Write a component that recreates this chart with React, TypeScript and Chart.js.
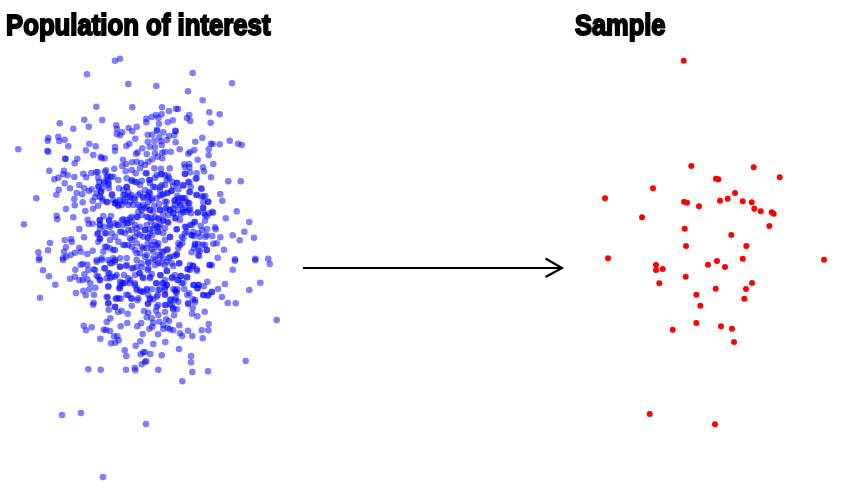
import React, { useEffect, useRef } from "react";
import { Chart, registerables } from "chart.js";

Chart.register(...registerables);

const titleLeft = "Population of interest";
const titleRight = "Sample";

const sample: [number, number][] = [
  [683.7,60.7],[691.3,166],[753.7,167.3],[779.7,177.3],[716,178.7],[718.3,179.3],[653,188.3],[735,193],[605,198.3],[727.7,198.7],
  [720,200.7],[742.7,201.3],[751.7,202.3],[684,201.7],[687,202.7],[699,206.3],[754.3,208.7],[760.7,211.3],[771.7,212.3],[773.7,213.7],
  [642,217.3],[769.3,226],[684.7,228.7],[731.3,235],[686,246],[746.3,246],[608,258.3],[742.7,258.7],[824,259.7],[717,261],
  [656,265],[708,264.7],[725,267],[662.7,269],[656,270],[685.7,276.7],[659.3,283.3],[752,283],[715.7,288.7],[746,289],
  [696.3,294.7],[744.3,298.7],[700.3,305.7],[696.3,323],[721,326.3],[732,328.7],[672.7,329.7],[734,342],[649.7,414],[715,424.3],
];

const populationTop: [number, number][] = [
  [115,60.7],[120,58.7],[87,74.3],[192.7,73],[232,83.3],[128.3,84],[156.3,86],[188,91.3],[202.7,100.3],[96.3,106.7],
  [132.3,107.3],[162,107.3],[176,108.7],[178,109],[169,111],[209.3,112.3],[219.7,114.3],[161.7,114.3],[156,115],[151.7,117],
  [146.3,118.7],[158.3,117.7],[189.3,115],[187,118],[190.3,121],[172.7,120.3],[167.7,122.3],[146.3,122.3],[159,123.7],[210.7,122.7],
  [84.3,119.7],[102.3,120],[59.7,123.3],[116.3,125.3],[88.7,126.7],[73.3,128.7],[136.7,126.7],[128.7,128],[117,129],[157,129.7],[175.3,130.7],
];

const populationUpperLeft: [number, number][] = [
  [18.3,149.3],[48.3,138],[47.7,140.7],[58.3,136.7],[59.3,141],[64.7,139.7],[68.3,146.3],[47.3,150.7],[48.3,151.7],[86,150.3],
  [89.3,143.7],[95.7,146.3],[93.3,155],[65,158.7],[65.7,158.7],[77.3,158.7],[74.7,163.3],[100.7,156.7],[101.7,158.3],[104.7,158.3],
  [116.7,134],[120,135.3],[122.3,132.3],[132.3,131.3],[135.3,138.7],[129.3,143.7],[126.3,146],[115,147],[115,151],[142.3,148.3],
  [137.7,152.3],[136,153.7],[123,159.7],[126,164],[132,162.3],[136.7,161.7],[141.3,163],[122.3,166],[114.3,168.7],[106,170.3],
  [49.3,170.7],[64,170.7],[63.3,174.3],[67.7,175.3],[74.3,177],[83.3,173.7],[86.3,177.3],[91.3,173],[96,172.3],[54.3,179.3],
  [58.3,177.7],[64.7,183.3],[79.3,185],[70,188.3],[84.3,188.3],[58.7,189.7],[56.3,194.7],[76.7,193],[82.3,194.3],[89,191],
  [91.7,189.3],[98.7,186.7],[36.3,198.3],[74.3,199],[74.7,205.3],[82.7,202.3],[92.7,201],[95,197.3],[101,191.7],[104,181.7],
  [108.7,182.7],[107.7,175.7],[113.3,176.7],[98.3,177.7],[125.7,171.3],[131.7,170],[135.7,173.3],[140,168.3],[118.3,180],[126.7,187.3],
  [131.7,181],[136.7,182.3],[141.7,180.7],[109,188.3],[112.3,194.3],[100,196.7],[102.7,200.7],[107.3,202.3],[116.7,201.7],[118.3,206],
  [115,203.3],[125,195],[130,196.7],[123.3,200.7],[128.3,205],[134,198.3],[140,193.3],[143.3,198.3],[138.3,205],[66,209],
  [98,205.7],[93,208.7],[85.3,211],[56.7,215.7],[57.3,219.3],[73.3,217.3],[24,224.3],[87.7,219.7],[88.7,224],[92.7,223.7],
  [99.7,220.3],[99.7,224.3],[103.3,216],[111,216],[109,220.7],[79.3,229],[100,229],[97.7,234.3],[84,237.3],[50,243],
  [64.7,240],[71,239],[71.7,242],[100,239],[106,233.3],[110,227],[116.7,225],[123.3,219.3],[126.7,223.3],[131.7,216.7],
  [137.3,217.3],[141.7,210],[135,225],[140,226.7],[128.3,230],[121.7,231.7],[137.3,233.3],[143.3,236.7],[131.7,240],[125,245],
  [118.3,241.7],[110,240],[106.7,246.7],[113.3,250],[38.3,252.3],[48,250.3],[66,247.3],[64,251.7],[79.3,247.7],[81,251.7],
  [75,252.7],[70.7,255],[66,256.7],[63,258],[39.3,258],[87.3,254],[92.7,250.7],[103.3,251.7],[120,258.3],[126.7,258],
  [136.7,253.3],[143.3,248.3],[131.7,246.7],[101.7,258.3],[113.3,258.3],
];

const populationUpperRight: [number, number][] = [
  [157,131],[163.3,132.3],[175.7,131.3],[147.7,134.7],[152.3,134.7],[159.3,137.3],[169,136],[174.3,135.3],[147.7,141.7],[154.3,141],
  [161,141.3],[166.7,140],[175.7,142.3],[149.7,146.7],[155,147.3],[161.7,145],[179.7,149.3],[165,151.7],[162.3,152.7],[170.7,151.7],
  [155,153.3],[157.7,156.7],[146.7,154],[152.3,159.3],[162.3,158.3],[148.3,161.7],[145,165],[154.3,168.3],[161,168.7],[169.7,168.3],
  [184.3,164.3],[189.3,164],[185,167.3],[189.3,167.3],[185,173.7],[190,172.3],[196.7,173.3],[195.7,178.7],[203,167.3],[204,171.3],
  [197.7,159.7],[213.3,164],[211,177.3],[188.3,153.7],[190,152],[194.3,150],[208.7,149.3],[208.7,155.3],[195.3,141.7],[202.3,137.7],
  [211,143.7],[212.7,144],[219.7,144.3],[229.7,140.7],[238,143.7],[241.7,145],[228.3,181.3],[240.7,181.3],[220.3,194],[222.3,200.7],
  [201,188.3],[196.3,194.7],[205.3,196],[201.3,196.3],[203.3,202.3],[208,201.7],[189.3,192.3],[189.3,203],[190.7,186.7],[183.3,185.7],
  [189.3,182.3],[177.3,182.7],[173.3,186],[178.3,189.3],[171.7,191],[167.7,192.7],[163.3,194.3],[160,195.7],[177.3,196],[181.7,198],
  [185,198.3],[186.7,201.7],[174.3,201],[178.3,201.7],[181,204],[166.7,201.7],[159,204],[151.7,198.3],[149,191.7],[155,187.3],
  [160,187.3],[165,185],[169,178.3],[165,175],[160.7,174.3],[155,177.7],[149,180],[150,183.3],[172.3,181.7],[145.7,173.3],
  [236.7,211.3],[225.7,218.3],[249.3,222],[244.3,231.7],[232.7,235.3],[254,237.7],[239.7,240.3],[220.3,237.3],[215,227.3],[215.7,229.3],
  [207,216.3],[213,212.7],[209.3,213.3],[203,207.7],[203.7,212.7],[197.7,212.3],[189.3,210],[185,208.3],[191,213.3],[183.3,212.3],
  [175.7,218.3],[180.7,214],[194.3,222.3],[191.7,225],[205,220.7],[200.7,225.7],[186,227],[176.7,229.3],[202.3,230.3],[207,229],
  [191.7,235.3],[194,236],[200,236.7],[205.7,236.7],[212.3,236],[186.7,231.7],[183.3,238.3],[178.3,243.3],[182.3,243.3],[195,243.7],
  [198.3,244],[202.7,244.7],[213.3,243.7],[216.7,243.3],[224,249.7],[206.7,250],[194,248.3],[191.7,252.3],[200,250.7],[199,256],
  [217.7,257.7],[235,259.3],[255.3,258.7],[268.3,258.7],[147.7,195],[148.3,201.7],[146.7,206.7],[150,210],[154.3,206],[160,210],
  [165.7,208.3],[170,210],[173.3,208.3],[163.3,214],[168.3,215],[173.3,213.3],[155,217.3],[159,219.3],[163.3,220.7],[167.7,221.7],
  [148.3,217.3],[151,221.7],[146.7,225],[155,225],[159,227.3],[150,229.3],[157.7,231.7],[165,228.3],[145,230],[152.3,235],
  [147.7,237.3],[170,237.3],[165,240],[158.3,243.3],[154.3,241.7],[147.7,243.3],[151.7,249],[157.7,247.3],[163.3,251.7],[167.7,249.3],
  [178.3,248.3],[174.3,256],[176.7,254],[169,258],[160,256.7],[153.3,258.3],[146.7,255],
];

const populationLowerLeft: [number, number][] = [
  [43,270.3],[49,276.3],[55.3,284.7],[40,297.7],[39,260],[63,260],[80.7,264.7],[82.7,264],[87.3,264.7],[75.3,269.7],
  [75,276.7],[70,278.7],[79.3,280.3],[82.7,280],[87.3,279.3],[88.3,270],[84.3,274.3],[93.7,269.3],[96.7,275.7],[98.3,276.7],
  [100,280],[90.3,283.3],[83.3,290.7],[89.3,289.3],[95.3,287.7],[76,293],[85.7,295.3],[94,294.7],[108.3,286],[107.7,297.3],
  [93.7,302.7],[93,304.7],[108.3,303.3],[108.7,309.7],[115,307],[118,312],[121.7,310.7],[127.7,313.7],[115.7,298.7],[118.7,298.3],
  [120.7,298.7],[126.3,294.7],[131.3,298.7],[137.3,300.3],[131.7,305.7],[144,311],[110.3,318.3],[106.7,322],[127.3,323],[141.3,323],
  [137.3,326.3],[83.7,325.7],[86,330.3],[91.7,327.3],[103.7,329.7],[106,330],[110,331],[120.7,326.3],[142.7,334],[100.3,338.7],
  [114,336.3],[117.3,336.3],[118.7,340.3],[115.3,342.7],[111,343.3],[140.3,341.3],[135.7,345.7],[124.7,350.3],[126.3,356],[140.7,354.3],
  [143.3,352.3],[141.7,364.3],[134.7,367.7],[135.3,370.3],[126,369.7],[100.7,369.7],[88.3,369.3],[145,361.7],[96.7,261.7],[104.3,268.3],
  [110,263.3],[115,261.7],[120,266.7],[126,266],[133.3,268.3],[141.7,267.3],[109.3,273.3],[110,278.3],[115,276.7],[106.7,278.3],
  [124,275],[135,275],[139.3,273.3],[142.7,277.3],[128.3,278.3],[121.7,282.7],[120,286],[130,283.3],[135,285],[119.3,288.3],
  [140,290.7],[143.3,291.7],[136.7,288.3],[125,283.3],[62,415],[81,413],
];

const populationLowerRight: [number, number][] = [
  [148.3,262.7],[155,265],[161,263.3],[166.7,261.7],[173.3,266],[179.3,263.3],[192.7,265.7],[187.3,269],[190,270],[197,270.7],
  [209.3,265],[211.7,265.3],[232.7,269.7],[235,260.7],[269.7,264],[255.3,260.3],[167,271],[147.7,270],[151.7,274],[160.7,275.3],
  [172.3,277.3],[180.7,276],[187.3,277.3],[177.3,280],[183.3,282.7],[165,280],[162.3,283.3],[156,283.3],[150,278.3],[166.7,285],
  [194,285],[198.7,285],[203.7,286.3],[197.3,288.3],[207.3,281.7],[225,284],[218,289],[260.3,282.7],[249.3,290],[212,292.3],
  [207.7,295.7],[203.3,295],[222,297],[227.7,303],[235.7,303.3],[189.3,293.3],[187.3,295],[184.3,289],[177.3,289.3],[173.3,289],
  [165,287.3],[160,289.3],[151.7,289.3],[146.7,289],[175.7,291.7],[165,294.3],[157.7,295],[148.3,295],[150,299.3],[153.3,299.3],
  [175.7,298.3],[171,299.3],[178.3,301.7],[188,304],[192.7,299.3],[195,302.3],[147.7,304],[165.7,305],[170,304.3],[156.7,306.7],
  [173.3,309.3],[177,309.3],[165,312],[156,310.7],[148.3,312.7],[192.7,308.3],[192,313.7],[197.3,316.3],[204.7,311.7],[174,315.3],
  [158.3,315],[146.7,317.3],[151.7,318.3],[159.3,321.7],[166,319.3],[169,321],[163.3,325],[153.3,322.7],[152.3,326.7],[149.3,328.7],
  [163.3,329],[167.7,327.7],[170,329.3],[173.3,330.3],[179.3,325.3],[180,333.3],[182.3,336],[188,330.7],[192.3,336],[201.7,330.3],
  [208.3,330.3],[208.7,324],[202.7,338.3],[276.7,320],[158,334.3],[165.3,342],[153.3,344],[179,349],[150.3,354],[161.7,355.3],
  [145,352.3],[191,356],[191,362.3],[146.3,361.3],[245.7,361],[158.3,369.7],[192.3,372],[208,371.3],[182.3,381.3],[146,424],[103,477],
];

const populationCoreUpper: [number, number][] = [
  [97.7,172],[105,171.7],[106.7,177.3],[111,176.7],[99,181.7],[104.3,183.3],[108.3,185],[98.3,186.7],[102.3,188.3],[96.7,193.3],
  [101,191.7],[101.7,198.3],[106.7,201.7],[111.7,195],[113.3,200],[115,203.3],[118.3,205],[119,188.3],[123.3,190],[126.7,186.7],
  [128.3,191.7],[123.3,195],[127.7,196.7],[131.7,195],[135,200],[130,201.7],[125,201.7],[133.3,205],[121.7,205],[120,200],
  [138.3,195],[143.3,196.7],[148.3,196.7],[151.7,200],[143.3,205],[140,206.7],[145,208.3],[150,210],[153.3,211.7],[138.3,211.7],
  [136.7,216.7],[141.7,215],[146.7,216.7],[151.7,218.3],[130,218.3],[126.7,220],[121.7,220],[131.7,221.7],[128.3,223.3],[123.3,225],
  [118.3,225],[115,223.3],[109,220],[100,220],[100,225],[104.3,226.7],[110,225],[97.7,233.3],[105,233.3],[111.7,233.3],
  [120,231.7],[125,233.3],[131.7,230],[136.7,228.3],[140,235],[145,230],[150,233.3],[153.3,228.3],[115,236.7],[100,238.3],
  [135,236.7],[130,238.3],[148.3,238.3],[108,180],[135,181.7],[140,185],[146.7,173.3],[150,180],[153.3,186.7],[145,190],
  [150,193.3],[126.7,178.3],[131.7,180],[156.7,175],[161.7,174],[168.3,176],[166.7,180],[176.7,183.3],[183.3,185],[188.3,181.7],
  [190,191.7],[161.7,185],[160,190],[161.7,195],[166.7,193.3],[171.7,190.7],[156.7,198.3],[165,201.7],[166.7,208.3],[175,200],
  [178.3,198.3],[183.3,198.3],[175,205],[180,205],[188.3,203.3],[160,210],[170,210],[173.3,213.3],[178.3,210],[183.3,210],
  [186.7,211.7],[190,208.3],[175,218.3],[180,220],[158.3,218.3],[163.3,220],[160,225],[156.7,226.7],[168.3,222.7],[158.3,231.7],
  [163.3,233.3],[176.7,229.3],[185,226.7],[195,221.7],[190,225],[185,233.3],[191.7,235],[193.3,231.7],[170,236.7],[181.7,236.7],
  [198.3,233.3],[206.7,235],[197.7,212.7],[203.3,208.3],[212.3,211.7],[205,215],[185,174],[196.7,178.3],[201.7,189],[196.7,195],
  [203.3,196.7],[208.3,201.7],
];

const populationCoreLower: [number, number][] = [
  [98.3,241.7],[105,246.7],[110,248.3],[115,250],[123.3,245],[128.3,245],[136.7,243.3],[141.7,246.7],[135,250],[140,253.3],
  [146.7,248.3],[151.7,245],[153.3,251.7],[145,256.7],[96.7,260],[101.7,260],[108.3,260],[111.7,263.3],[115,260],[120,266.7],
  [126.7,265],[136.7,260],[141.7,263.3],[148.3,261.7],[131.7,268.3],[136.7,266.7],[148.3,268.3],[105,268.3],[108.3,273.3],[111.7,276.7],
  [116.7,275],[120,281.7],[123.3,283.3],[130,280],[135,283.3],[140,273.3],[143.3,278.3],[150,276.7],[95,270],[100,280],
  [108.3,286.7],[120,288.3],[128.3,295],[136.7,290],[141.7,291.7],[146.7,290],[150,298.3],[106.7,296.7],[116.7,298.3],[131.7,298.3],
  [138.3,298.3],[108.3,303.3],[115,306.7],[148.3,303.3],[156.7,245],[161.7,251.7],[166.7,250],[158.3,255],[163.3,258.3],[170,256.7],
  [176.7,255],[155,260],[158.3,263.3],[165,265],[171.7,263.3],[179,263.3],[180,245],[195,245],[198.3,250],[205,245],
  [206.7,250],[198.3,255],[210,265],[190,265],[193.3,266],[188.3,269.3],[196.7,269.3],[160,275],[166.7,270.7],[171.7,278.3],
  [175,275],[181,276],[186.7,277.3],[163.3,283.3],[166.7,285],[156.7,283.3],[178.3,280],[181.7,283.3],[175,290],[176.7,292.7],
  [165,290],[158.3,290],[193.3,285],[198.3,285],[197.7,288.3],[203.3,295],[208.3,295],[211.7,291.7],[165,295],[156.7,296.7],
  [175,300],[195,300],[170,300],[188.3,303.3],[165,305],[171.7,305],[158.3,305],[173.3,308.3],
];

const arrowShaft: [number, number][] = [[303,268],[562,268]];
const arrowHead: [number, number][] = [[545.5,258.5],[562,268],[545.5,277]];

const toXY = (list: [number, number][]) => list.map(([x, y]) => ({ x, y }));

const dot = (list: [number, number][], color: string, radius: number) => ({
  data: toXY(list),
  backgroundColor: color,
  borderWidth: 0,
  pointRadius: radius,
  pointHoverRadius: radius,
  showLine: false,
});

const stroke = (list: [number, number][]) => ({
  data: toXY(list),
  borderColor: "#000000",
  borderWidth: 2.2,
  pointRadius: 0,
  showLine: true,
  tension: 0,
  fill: false,
});

const titlesPlugin = {
  id: "panelTitles",
  afterDatasetsDraw(chart: any) {
    const { ctx, scales } = chart;
    const draw = (text: string, left: number, right: number, base: number) => {
      const x0 = scales.x.getPixelForValue(left);
      const x1 = scales.x.getPixelForValue(right);
      const y = scales.y.getPixelForValue(base);
      ctx.save();
      ctx.font = 'bold 30px "Liberation Sans Narrow", "Liberation Sans", sans-serif';
      ctx.textBaseline = "alphabetic";
      ctx.textAlign = "left";
      const w = ctx.measureText(text).width;
      ctx.translate(x0, y);
      ctx.scale((x1 - x0) / w, 1);
      ctx.fillStyle = "#000000";
      ctx.strokeStyle = "#000000";
      ctx.lineWidth = 2;
      ctx.lineJoin = "miter";
      ctx.strokeText(text, 0, 0);
      ctx.fillText(text, 0, 0);
      ctx.restore();
    };
    draw(titleLeft, 6, 270.5, 34.5);
    draw(titleRight, 575, 665.5, 34.5);
  },
};

export default function App() {
  const ref = useRef<HTMLCanvasElement>(null);
  useEffect(() => {
    const blue = "rgba(0,0,255,0.5)";
    const r = 3.3;
    const chart = new Chart(ref.current!, {
      type: "scatter",
      data: {
        datasets: [
          stroke(arrowShaft),
          stroke(arrowHead),
          dot(sample, "#ff0000", 3),
          dot(populationTop, blue, r),
          dot(populationUpperLeft, blue, r),
          dot(populationUpperRight, blue, r),
          dot(populationLowerLeft, blue, r),
          dot(populationLowerRight, blue, r),
          dot(populationCoreUpper, blue, r),
          dot(populationCoreLower, blue, r),
        ] as any,
      },
      options: {
        animation: false,
        responsive: false,
        devicePixelRatio: 1,
        layout: { padding: 0, autoPadding: false },
        plugins: { legend: { display: false }, tooltip: { enabled: false }, title: { display: false } },
        scales: {
          x: { type: "linear", min: 0, max: 864, display: false },
          y: { type: "linear", min: 0, max: 504, reverse: true, display: false },
        },
      },
      plugins: [titlesPlugin],
    });
    return () => chart.destroy();
  }, []);
  return (
    <div style={{ position: "fixed", left: 0, top: 0, width: 864, height: 504, background: "#ffffff" }}>
      <canvas ref={ref} width={864} height={504} style={{ display: "block", width: 864, height: 504 }} />
    </div>
  );
}
